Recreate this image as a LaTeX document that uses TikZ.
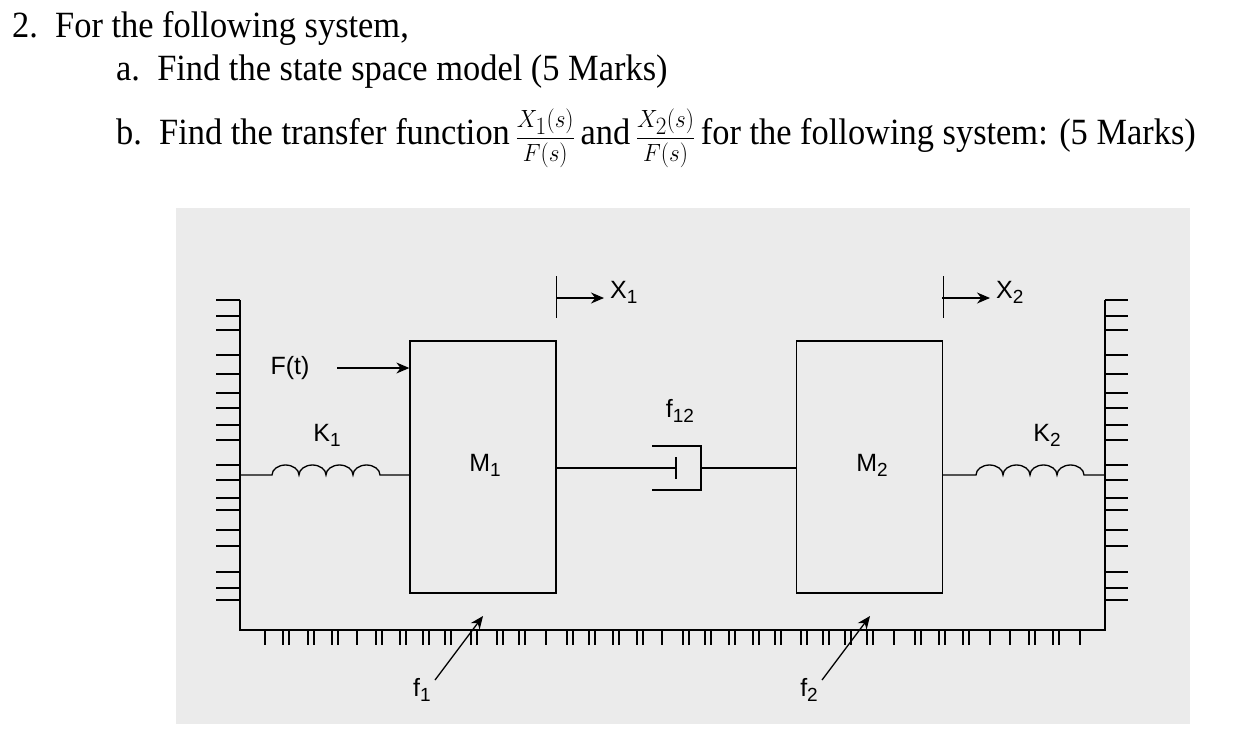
\documentclass[tikz,border=0pt]{standalone}
\usepackage{fontspec}
\setmainfont{Liberation Serif}
\newfontfamily\diag{Liberation Sans}
\usetikzlibrary{arrows.meta}
\newcommand{\sbs}[1]{\raisebox{-5pt}{\fontsize{19}{19}\selectfont #1}}
\begin{document}
\begin{tikzpicture}[x=1pt,y=-1pt,
  hdr/.style={anchor=west,inner sep=0pt,font=\fontsize{37}{40}\selectfont,xscale=0.93},
  lbl/.style={font=\diag\fontsize{25}{27}\selectfont,inner sep=0pt},
  mass/.style={draw,line width=1.3pt,minimum width=146pt,minimum height=252pt,inner sep=0pt},
  ln/.style={line width=1.3pt},
  arr/.style={line width=1.3pt,-{Stealth[length=13pt,width=11pt]}}]
\useasboundingbox (0,0) rectangle (1256,740);
\fill[white] (0,0) rectangle (1256,740);
\fill[black!8] (176,208) rectangle (1190,724);
% header
\node[hdr] (h1) at (12,28) {2.\ \ For the following system,};
\node[hdr] (h2) at (116,72) {a.\ \ Find the state space model (5 Marks)};
\node[hdr] (h3) at (116,138) {b.\ \ Find the transfer function\,$\displaystyle\frac{X_{1}(s)}{F(s)}$\,and\,$\displaystyle\frac{X_{2}(s)}{F(s)}$\,for the following system: (5 Marks)};
% walls
\draw[ln] (240,300) -- (240,630) -- (1105,630) -- (1105,300);
\foreach \y in {300,316,330,355,374,393,408,425,440,465,480,498,510,530,546,572,588,600} {
  \draw[ln] (216,\y) -- (240,\y);
  \draw[ln] (1105,\y) -- (1128,\y);}
\foreach \x/\t in {265/1,286/2,311/2,335/2,357/1,379/2,403/2,426/2,448/2,474/2,500/2,522/2,546/1,570/2,592/2,616/2,640/2,662/1,686/2,708/2,732/2,756/2,778/2,804/2,826/2,848/2,870/2,894/1,918/2,942/2,966/2,990/1,1010/1,1032/2,1056/2,1080/1} {
  \ifnum\t=1 \draw[ln] (\x,630) -- (\x,645); \else
  \draw[ln] (\x-3,630) -- (\x-3,645); \draw[ln] (\x+3,630) -- (\x+3,645); \fi}
% masses
\node[mass] (M1) at (483,467) {};
\node[mass] (M2) at (869.5,467) {};
\node[lbl] (m1l) at (485,465) {M\sbs{1}};
\node[lbl] (m2l) at (872,465) {M\sbs{2}};
% springs
\draw[ln] (240,475) -- (272,475)
  arc[start angle=180,end angle=360,x radius=13.5,y radius=10]
  arc[start angle=180,end angle=360,x radius=13.5,y radius=10]
  arc[start angle=180,end angle=360,x radius=13.5,y radius=10]
  arc[start angle=180,end angle=360,x radius=13.5,y radius=10] -- (M1.west |- 0,475);
\draw[ln] (M2.east |- 0,475) -- (976,475)
  arc[start angle=180,end angle=360,x radius=13.5,y radius=10]
  arc[start angle=180,end angle=360,x radius=13.5,y radius=10]
  arc[start angle=180,end angle=360,x radius=13.5,y radius=10]
  arc[start angle=180,end angle=360,x radius=13.5,y radius=10] -- (1105,475);
\node[lbl] (k1) at (327,435) {K\sbs{1}};
\node[lbl] (k2) at (1047,435) {K\sbs{2}};
% damper
\coordinate (p) at (676,468);
\draw[ln] (M1.east |- p) -- (p);
\draw[ln] (676,457) -- (676,479);
\draw[ln] (652,446) -- (701,446) -- (701,490) -- (652,490);
\draw[ln] (701,468) -- (M2.west |- p);
\node[lbl] (f12) at (680,411) {f\sbs{12}};
% force
\node[lbl] (F) at (290,368) {F(t)};
\draw[arr] (337,368) -- (M1.west |- 0,368);
% displacement markers
\draw[ln] (M1.north east |- 0,276) -- (M1.north east |- 0,318);
\draw[arr] (556,298) -- (604,298);
\node[lbl,anchor=west] (x1) at (610,292) {X\sbs{1}};
\draw[ln] (M2.north east |- 0,276) -- (M2.north east |- 0,318);
\draw[arr] (942,298) -- (990,298);
\node[lbl,anchor=west] (x2) at (996,292) {X\sbs{2}};
% friction
\draw[arr] (435,680) -- (483,616);
\node[lbl] (f1) at (422,690) {f\sbs{1}};
\draw[arr] (822,680) -- (870,616);
\node[lbl] (f2) at (809,690) {f\sbs{2}};
\end{tikzpicture}
\end{document}
